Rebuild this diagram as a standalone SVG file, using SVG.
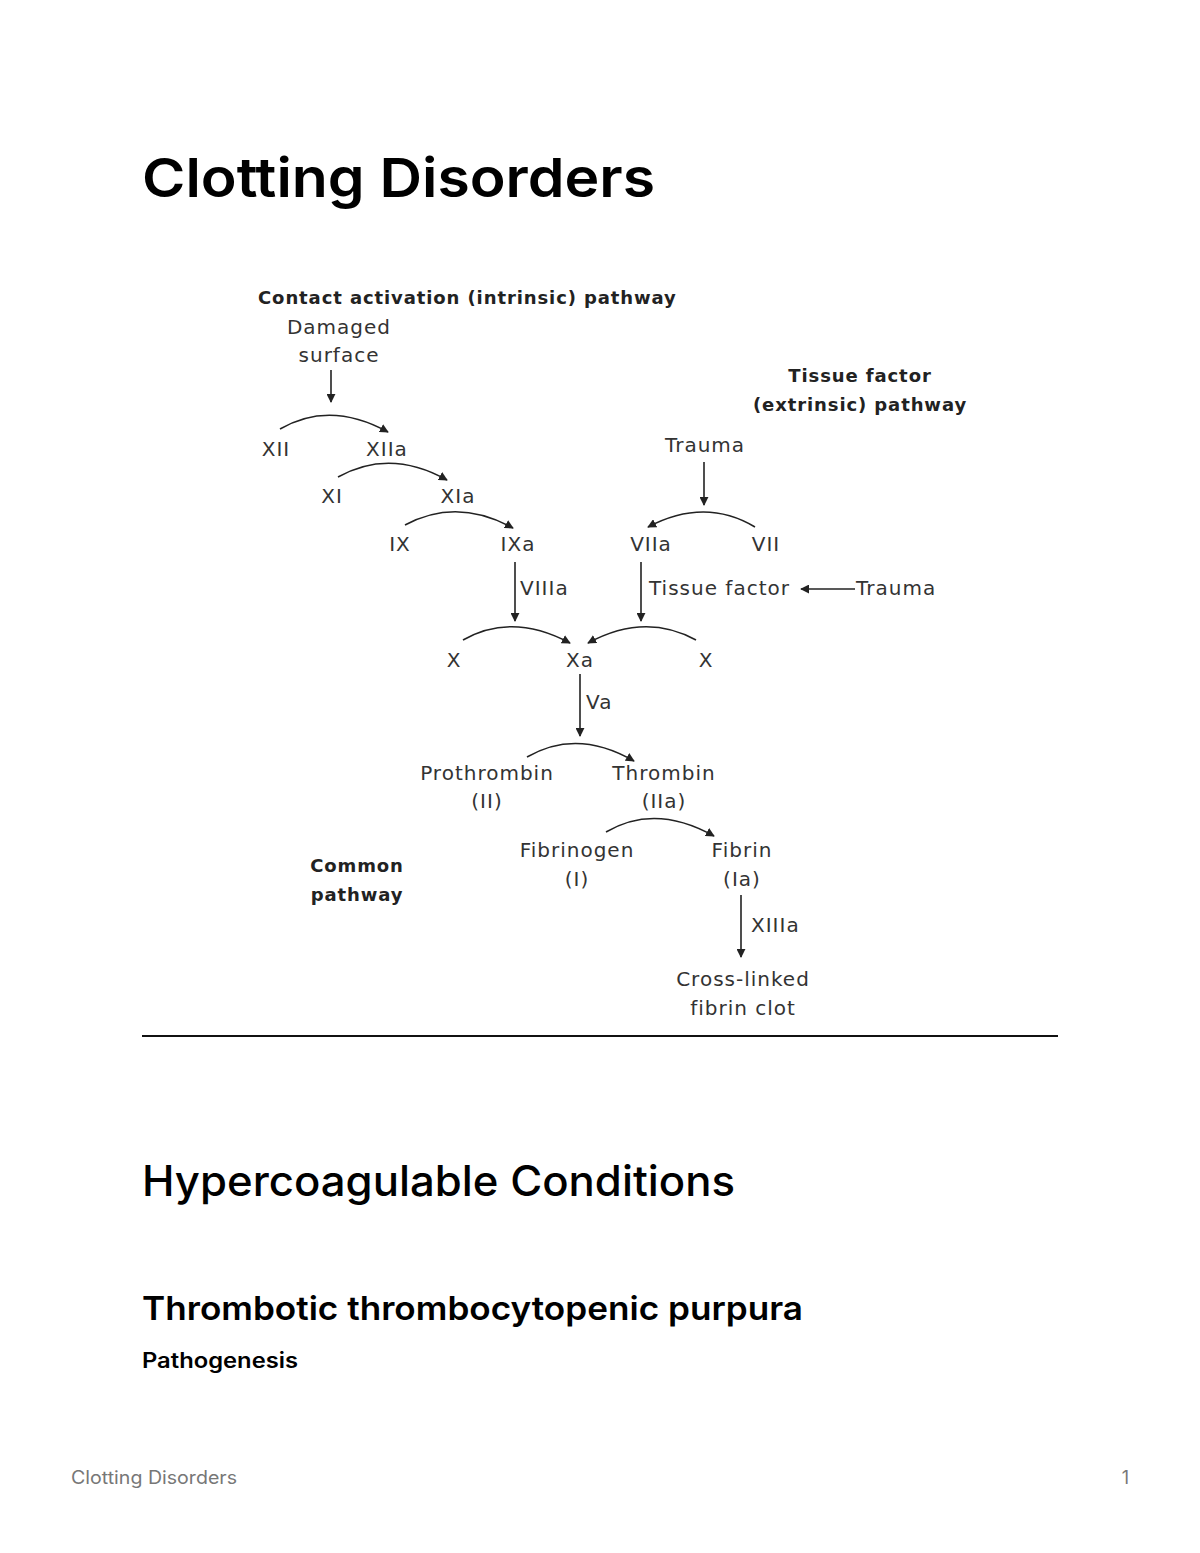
<svg xmlns="http://www.w3.org/2000/svg" width="1200" height="1553" viewBox="0 0 1200 1553">
<defs>
<marker id="ah" viewBox="0 0 10 10" refX="9" refY="5" markerWidth="9" markerHeight="9" markerUnits="userSpaceOnUse" orient="auto">
<path d="M0,0 L10,5 L0,10 z" fill="#222"/>
</marker>
<style>
.h{font-family:Inter,"Liberation Sans",sans-serif;fill:#000}
.d{font-family:"DejaVu Sans","Liberation Sans",sans-serif;font-size:20px;letter-spacing:1px;fill:#333}
.b{font-family:"DejaVu Sans","Liberation Sans",sans-serif;font-size:18px;font-weight:bold;letter-spacing:0.9px;fill:#222}
.c{stroke:#222;stroke-width:1.6;fill:none;marker-end:url(#ah)}
.m{text-anchor:middle}
.f{font-family:Inter,"Liberation Sans",sans-serif;font-size:18px;fill:#777}
</style>
</defs>
<rect width="1200" height="1553" fill="#fff"/>
<text class="h" x="142" y="197" font-size="54" font-weight="600" textLength="513" lengthAdjust="spacingAndGlyphs">Clotting Disorders</text>

<g id="connectors">
<path class="c" d="M331,370 L331,402"/>
<path class="c" d="M280,429 Q330,400 388,432"/>
<path class="c" d="M338,477 Q390,448 447,480"/>
<path class="c" d="M405,525 Q457,497 513,528"/>
<path class="c" d="M704,462 L704,505"/>
<path class="c" d="M755,527 Q705,497 648,527"/>
<path class="c" d="M515,562 L515,621"/>
<path class="c" d="M641,562 L641,621"/>
<path class="c" d="M855,589 L801,589"/>
<path class="c" d="M463,640 Q512,612 570,643"/>
<path class="c" d="M696,640 Q645,612 588,643"/>
<path class="c" d="M580,674 L580,736"/>
<path class="c" d="M527,757 Q577,728 634,761"/>
<path class="c" d="M606,832 Q655,803 714,836"/>
<path class="c" d="M741,895 L741,957"/>
</g>

<g id="title-intrinsic"><text class="b" x="258" y="304">Contact activation (intrinsic) pathway</text></g>
<g id="damaged"><text class="d m" x="339" y="334">Damaged</text><text class="d m" x="339" y="362">surface</text></g>
<g id="title-extrinsic"><text class="b m" x="860" y="382">Tissue factor</text><text class="b m" x="860" y="411">(extrinsic) pathway</text></g>
<g id="XII"><text class="d m" x="276" y="456">XII</text></g>
<g id="XIIa"><text class="d m" x="387" y="456">XIIa</text></g>
<g id="trauma1"><text class="d m" x="705" y="452">Trauma</text></g>
<g id="XI"><text class="d m" x="332" y="503">XI</text></g>
<g id="XIa"><text class="d m" x="458" y="503">XIa</text></g>
<g id="IX"><text class="d m" x="400" y="551">IX</text></g>
<g id="IXa"><text class="d m" x="518" y="551">IXa</text></g>
<g id="VIIa"><text class="d m" x="651" y="551">VIIa</text></g>
<g id="VII"><text class="d m" x="766" y="551">VII</text></g>
<g id="VIIIa"><text class="d" x="520" y="595">VIIIa</text></g>
<g id="tissue-factor"><text class="d" x="649" y="595">Tissue factor</text></g>
<g id="trauma2"><text class="d" x="856" y="595">Trauma</text></g>
<g id="X1"><text class="d m" x="454" y="667">X</text></g>
<g id="Xa"><text class="d m" x="580" y="667">Xa</text></g>
<g id="X2"><text class="d m" x="706" y="667">X</text></g>
<g id="Va"><text class="d" x="586" y="709">Va</text></g>
<g id="prothrombin"><text class="d m" x="487" y="780">Prothrombin</text><text class="d m" x="487" y="808">(II)</text></g>
<g id="thrombin"><text class="d m" x="664" y="780">Thrombin</text><text class="d m" x="664" y="808">(IIa)</text></g>
<g id="fibrinogen"><text class="d m" x="577" y="857">Fibrinogen</text><text class="d m" x="577" y="886">(I)</text></g>
<g id="fibrin"><text class="d m" x="742" y="857">Fibrin</text><text class="d m" x="742" y="886">(Ia)</text></g>
<g id="common"><text class="b m" x="357" y="872">Common</text><text class="b m" x="357" y="901">pathway</text></g>
<g id="XIIIa"><text class="d" x="751" y="932">XIIIa</text></g>
<g id="clot"><text class="d m" x="743" y="986">Cross-linked</text><text class="d m" x="743" y="1015">fibrin clot</text></g>

<rect x="142" y="1035" width="916" height="2" fill="#111"/>
<text class="h" x="142" y="1196" font-size="42" font-weight="500" textLength="593" lengthAdjust="spacingAndGlyphs">Hypercoagulable Conditions</text>
<text class="h" x="142" y="1320" font-size="33" font-weight="600" textLength="661" lengthAdjust="spacingAndGlyphs">Thrombotic thrombocytopenic purpura</text>
<text class="h" x="142" y="1368" font-size="21" font-weight="600" textLength="156" lengthAdjust="spacingAndGlyphs">Pathogenesis</text>
<text class="f" x="71" y="1484" textLength="166" lengthAdjust="spacingAndGlyphs">Clotting Disorders</text>
<text class="f" x="1129" y="1484" text-anchor="end">1</text>
</svg>
